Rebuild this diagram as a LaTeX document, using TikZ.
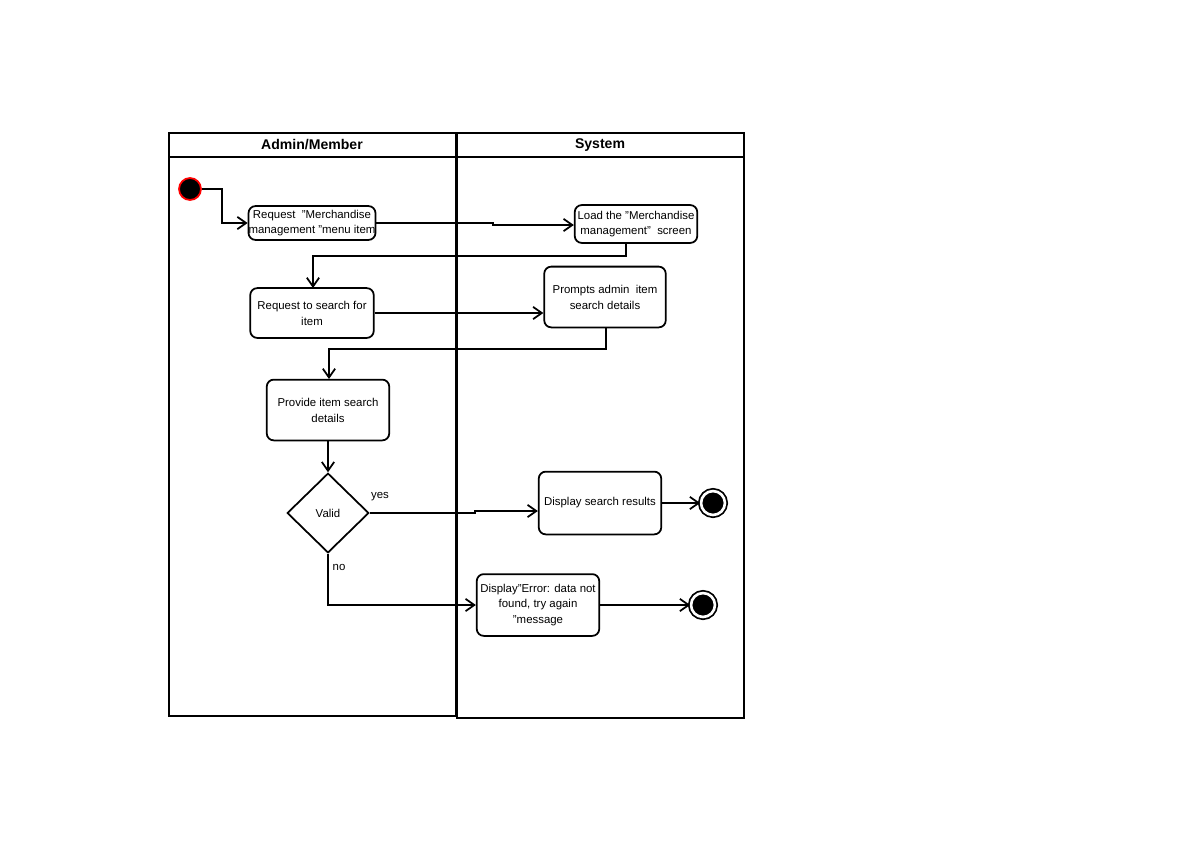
\documentclass[tikz,border=0pt]{standalone}
\usepackage{fontspec}
\setmainfont{Liberation Sans}
\usetikzlibrary{shapes.geometric,arrows.meta}
\begin{document}
\begin{tikzpicture}[x=0.02cm,y=-0.02cm,
  lane/.style={draw,line width=1.2pt},
  act/.style={draw,line width=1pt,rounded corners=4pt,align=center,font=\fontsize{6.5}{9}\selectfont,inner sep=0pt},
  flow/.style={line width=1pt,-{Straight Barb[length=5pt,width=7pt]}},
  endn/.style={circle,draw,line width=1pt,fill=black,double=white,double distance=1.5pt,minimum size=24pt*0.567,inner sep=0pt},
  lbl/.style={font=\fontsize{6.5}{8}\selectfont,inner sep=0pt}]
\useasboundingbox (0,0) rectangle (1200,850);
\draw[lane] (169,133) rectangle (456,716);
\draw[lane] (169,157) -- (456,157);
\draw[lane] (457,133) rectangle (744,718);
\draw[lane] (457,157) -- (744,157);
\node[font=\bfseries\fontsize{8}{9}\selectfont] (h1) at (312,145) {Admin/Member};
\node[font=\bfseries\fontsize{8}{9}\selectfont] (h2) at (600,145) {System};

\node[circle,fill=black,draw=red,line width=1pt,minimum size=12.5pt,inner sep=0pt] (s) at (190,189) {};
\node[act,minimum width=124*0.567pt,minimum height=34*0.567pt] (A) at (312,223) {Request \ "Merchandise\\management "menu item};
\node[act,minimum width=123*0.567pt,minimum height=38*0.567pt] (B) at (636,224) {Load the "Merchandise\\management" \ screen};
\node[act,minimum width=124*0.567pt,minimum height=50*0.567pt] (C) at (312,313) {Request to search for\\item};
\node[act,minimum width=122*0.567pt,minimum height=61*0.567pt] (D) at (605,297) {Prompts admin \ item\\search details};
\node[act,minimum width=123*0.567pt,minimum height=61*0.567pt] (E) at (328,410) {Provide item search\\details};
\node[diamond,draw,line width=1pt,minimum width=82*0.567pt,minimum height=80*0.567pt,inner sep=0pt,font=\fontsize{6.5}{8}\selectfont] (F) at (328,513) {Valid};
\node[act,minimum width=123*0.567pt,minimum height=63*0.567pt] (G) at (600,503) {Display search results};
\node[endn] (H) at (713,503) {};
\node[act,minimum width=123*0.567pt,minimum height=62*0.567pt] (I) at (538,605) {Display"Error: data not\\found, try again\\"message};
\node[endn] (J) at (703,605) {};

\draw[flow] (s.east) -- (222,189) -- (222,223) -- (A.west);
\draw[flow] (A.east) -- (493,223) -- (493,225) -- (B.west |- 0,225);
\draw[flow] (626,243) -- (626,256) -- (313,256) -- (313,288);
\draw[flow] (C.east) -- (D.west |- C.east);
\draw[flow] (606,328) -- (606,349) -- (329,349) -- (329,379);
\draw[flow] (E.south) -- (F.north);
\draw[flow] (F.east) -- (475,513) -- (475,511) -- (G.west |- 0,511);
\draw[flow] (F.south) -- (328,605) -- (I.west);
\draw[flow] (G.east) -- (H.west);
\draw[flow] (I.east) -- (J.west);
\node[lbl] (y) at (380,497) {yes};
\node[lbl] (n) at (339,567) {no};
\end{tikzpicture}
\end{document}
